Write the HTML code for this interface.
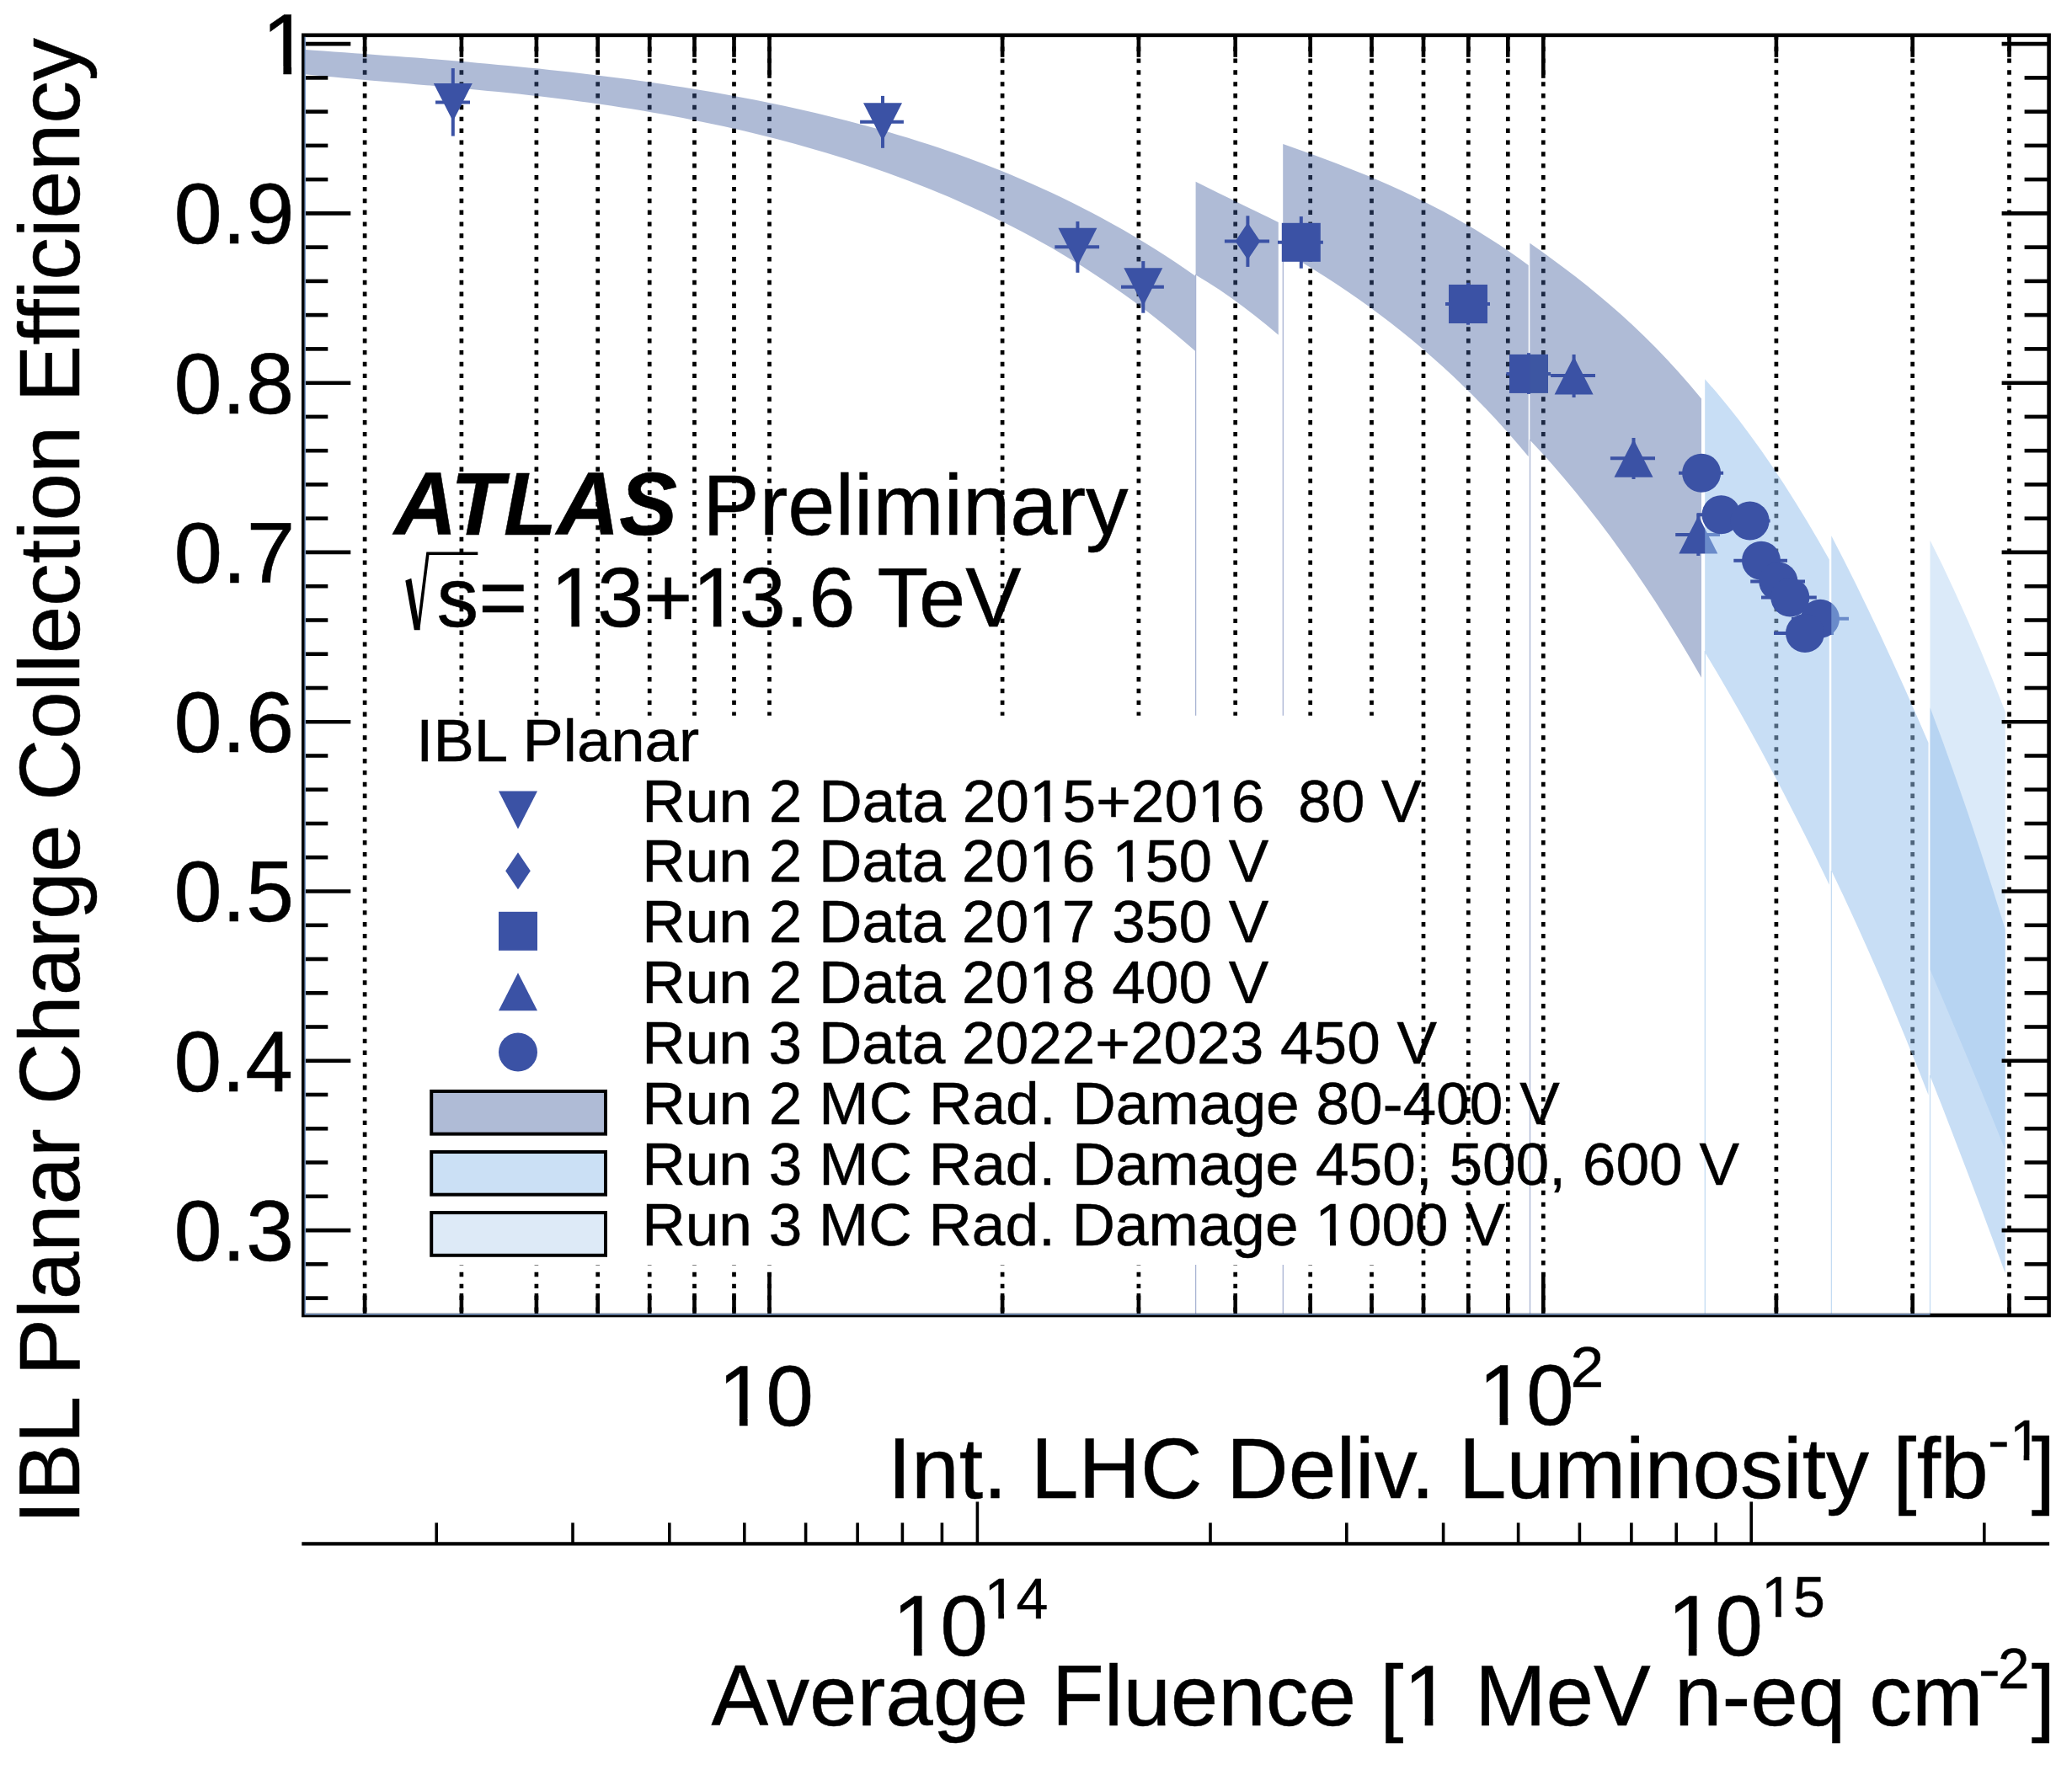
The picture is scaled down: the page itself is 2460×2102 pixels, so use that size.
<!DOCTYPE html>
<html lang="en"><head><meta charset="utf-8"><title>IBL Planar Charge Collection Efficiency</title>
<style>html,body{margin:0;padding:0;background:#fff}svg{display:block}text{font-family:'Liberation Sans',Arial,Helvetica,sans-serif;fill:#000;white-space:pre}</style></head><body>
<svg width="2460" height="2102" viewBox="0 0 2460 2102">
<rect x="0" y="0" width="2460" height="2102" fill="#fff"/>
<g stroke="#000" stroke-width="4.7" stroke-dasharray="5.4 8.46" fill="none">
<line x1="433.1" y1="41.7" x2="433.1" y2="1562.0"/>
<line x1="547.9" y1="41.7" x2="547.9" y2="1562.0"/>
<line x1="636.9" y1="41.7" x2="636.9" y2="1562.0"/>
<line x1="709.7" y1="41.7" x2="709.7" y2="1562.0"/>
<line x1="771.2" y1="41.7" x2="771.2" y2="1562.0"/>
<line x1="824.5" y1="41.7" x2="824.5" y2="1562.0"/>
<line x1="871.5" y1="41.7" x2="871.5" y2="1562.0"/>
<line x1="913.5" y1="41.7" x2="913.5" y2="1562.0"/>
<line x1="1190.1" y1="41.7" x2="1190.1" y2="1562.0"/>
<line x1="1351.9" y1="41.7" x2="1351.9" y2="1562.0"/>
<line x1="1466.7" y1="41.7" x2="1466.7" y2="1562.0"/>
<line x1="1555.7" y1="41.7" x2="1555.7" y2="1562.0"/>
<line x1="1628.5" y1="41.7" x2="1628.5" y2="1562.0"/>
<line x1="1690.0" y1="41.7" x2="1690.0" y2="1562.0"/>
<line x1="1743.3" y1="41.7" x2="1743.3" y2="1562.0"/>
<line x1="1790.3" y1="41.7" x2="1790.3" y2="1562.0"/>
<line x1="1832.3" y1="41.7" x2="1832.3" y2="1562.0"/>
<line x1="2108.9" y1="41.7" x2="2108.9" y2="1562.0"/>
<line x1="2270.7" y1="41.7" x2="2270.7" y2="1562.0"/>
<line x1="2385.5" y1="41.7" x2="2385.5" y2="1562.0"/>
</g>
<path d="M360.0 58.8 L372.2 59.7 L384.3 60.6 L396.5 61.5 L408.7 62.3 L420.9 63.2 L433.0 64.1 L445.2 65.0 L457.4 65.9 L469.6 66.8 L481.7 67.7 L493.9 68.6 L506.1 69.6 L518.3 70.6 L530.4 71.5 L542.6 72.6 L554.8 73.6 L567.0 74.7 L579.1 75.7 L591.3 76.9 L603.5 78.0 L615.7 79.2 L627.8 80.4 L640.0 81.6 L652.2 82.9 L664.4 84.2 L676.5 85.6 L688.7 87.0 L700.9 88.4 L713.1 89.9 L725.2 91.4 L737.4 93.0 L749.6 94.6 L761.8 96.3 L773.9 98.0 L786.1 99.8 L798.3 101.7 L810.5 103.6 L822.6 105.5 L834.8 107.5 L847.0 109.6 L859.2 111.7 L871.3 114.0 L883.5 116.2 L895.7 118.6 L907.9 121.0 L920.0 123.5 L932.2 126.1 L944.4 128.7 L956.6 131.5 L968.7 134.3 L980.9 137.2 L993.1 140.2 L1005.3 143.3 L1017.4 146.4 L1029.6 149.7 L1041.8 153.1 L1054.0 156.6 L1066.1 160.2 L1078.3 163.8 L1090.5 167.7 L1102.7 171.6 L1114.8 175.6 L1127.0 179.8 L1139.2 184.1 L1151.4 188.5 L1163.5 193.1 L1175.7 197.7 L1187.9 202.6 L1200.1 207.6 L1212.2 212.7 L1224.4 218.0 L1236.6 223.4 L1248.8 229.0 L1260.9 234.8 L1273.1 240.8 L1285.3 246.9 L1297.5 253.2 L1309.6 259.7 L1321.8 266.4 L1334.0 273.3 L1346.2 280.4 L1358.3 287.7 L1370.5 295.3 L1382.7 303.0 L1394.9 311.0 L1407.0 319.3 L1419.2 327.7 L1419.2 417.1 L1407.0 406.5 L1394.9 396.2 L1382.7 386.2 L1370.5 376.5 L1358.3 367.1 L1346.2 358.0 L1334.0 349.2 L1321.8 340.7 L1309.6 332.4 L1297.5 324.4 L1285.3 316.6 L1273.1 309.1 L1260.9 301.7 L1248.8 294.6 L1236.6 287.8 L1224.4 281.1 L1212.2 274.6 L1200.1 268.3 L1187.9 262.2 L1175.7 256.2 L1163.5 250.5 L1151.4 244.9 L1139.2 239.4 L1127.0 234.1 L1114.8 229.0 L1102.7 224.0 L1090.5 219.2 L1078.3 214.5 L1066.1 210.0 L1054.0 205.5 L1041.8 201.2 L1029.6 197.0 L1017.4 193.0 L1005.3 189.1 L993.1 185.2 L980.9 181.5 L968.7 177.9 L956.6 174.4 L944.4 171.0 L932.2 167.8 L920.0 164.6 L907.9 161.5 L895.7 158.5 L883.5 155.6 L871.3 152.8 L859.2 150.1 L847.0 147.4 L834.8 144.9 L822.6 142.4 L810.5 140.1 L798.3 137.8 L786.1 135.6 L773.9 133.4 L761.8 131.3 L749.6 129.3 L737.4 127.4 L725.2 125.6 L713.1 123.8 L700.9 122.1 L688.7 120.4 L676.5 118.8 L664.4 117.3 L652.2 115.8 L640.0 114.3 L627.8 113.0 L615.7 111.6 L603.5 110.3 L591.3 109.1 L579.1 107.9 L567.0 106.7 L554.8 105.5 L542.6 104.4 L530.4 103.3 L518.3 102.3 L506.1 101.2 L493.9 100.2 L481.7 99.1 L469.6 98.1 L457.4 97.0 L445.2 96.0 L433.0 94.9 L420.9 93.8 L408.7 92.7 L396.5 91.6 L384.3 90.4 L372.2 89.2 L360.0 87.9Z" fill="rgba(64,93,157,0.42)"/>
<line x1="537.8" y1="81.1" x2="537.8" y2="161.6" stroke="#3b52a5" stroke-width="4"/>
<line x1="517.0" y1="121.6" x2="558.0" y2="121.6" stroke="#3b52a5" stroke-width="4"/>
<path d="M514.8 99.1L560.8 99.1L537.8 144.1Z" fill="#3b52a5"/>
<line x1="1048.0" y1="113.9" x2="1048.0" y2="175.8" stroke="#3b52a5" stroke-width="4"/>
<line x1="1021.1" y1="144.8" x2="1072.9" y2="144.8" stroke="#3b52a5" stroke-width="4"/>
<path d="M1025.0 122.3L1071.0 122.3L1048.0 167.3Z" fill="#3b52a5"/>
<line x1="1279.4" y1="263.0" x2="1279.4" y2="323.8" stroke="#3b52a5" stroke-width="4"/>
<line x1="1252.3" y1="293.2" x2="1305.1" y2="293.2" stroke="#3b52a5" stroke-width="4"/>
<path d="M1256.4 270.7L1302.4 270.7L1279.4 315.7Z" fill="#3b52a5"/>
<line x1="1357.3" y1="310.1" x2="1357.3" y2="371.7" stroke="#3b52a5" stroke-width="4"/>
<line x1="1331.0" y1="340.8" x2="1381.9" y2="340.8" stroke="#3b52a5" stroke-width="4"/>
<path d="M1334.3 318.3L1380.3 318.3L1357.3 363.3Z" fill="#3b52a5"/>
<path d="M1419.6 215.8 L1433.6 222.8 L1447.7 229.7 L1461.7 236.6 L1475.7 243.5 L1489.7 250.3 L1503.8 257.1 L1517.8 263.9 L1517.8 397.8 L1503.8 386.0 L1489.7 374.7 L1475.7 364.0 L1461.7 353.8 L1447.7 344.1 L1433.6 335.0 L1419.6 326.4Z" fill="rgba(64,93,157,0.42)"/>
<line x1="1419.6" y1="326.0" x2="1419.6" y2="1562.0" stroke="#a9b4d3" stroke-width="1.3"/>
<line x1="1481.4" y1="256.3" x2="1481.4" y2="316.9" stroke="#3b52a5" stroke-width="4"/>
<line x1="1453.9" y1="286.4" x2="1507.1" y2="286.4" stroke="#3b52a5" stroke-width="4"/>
<path d="M1481.4 264.4L1496.2 286.4L1481.4 308.4L1466.6 286.4Z" fill="#3b52a5"/>
<path d="M1523.2 171.0 L1535.9 175.4 L1548.5 179.9 L1561.2 184.5 L1573.9 189.2 L1586.6 193.9 L1599.2 198.9 L1611.9 203.9 L1624.6 209.1 L1637.3 214.5 L1649.9 220.1 L1662.6 225.8 L1675.3 231.8 L1688.0 237.9 L1700.6 244.4 L1713.3 251.0 L1726.0 258.0 L1738.7 265.2 L1751.3 272.6 L1764.0 280.4 L1776.7 288.5 L1789.4 297.0 L1802.0 305.7 L1814.7 314.9 L1814.7 542.2 L1802.0 527.2 L1789.4 512.8 L1776.7 498.8 L1764.0 485.3 L1751.3 472.3 L1738.7 459.7 L1726.0 447.5 L1713.3 435.7 L1700.6 424.4 L1688.0 413.4 L1675.3 402.8 L1662.6 392.5 L1649.9 382.5 L1637.3 372.9 L1624.6 363.6 L1611.9 354.6 L1599.2 345.8 L1586.6 337.3 L1573.9 329.0 L1561.2 321.0 L1548.5 313.2 L1535.9 305.5 L1523.2 298.0Z" fill="rgba(64,93,157,0.42)"/>
<line x1="1523.3" y1="298.0" x2="1523.3" y2="1562.0" stroke="#a9b4d3" stroke-width="1.3"/>
<line x1="1544.8" y1="257.1" x2="1544.8" y2="318.7" stroke="#3b52a5" stroke-width="4"/>
<line x1="1517.0" y1="287.8" x2="1570.9" y2="287.8" stroke="#3b52a5" stroke-width="4"/>
<rect x="1521.8" y="264.8" width="46.0" height="46.0" fill="#3b52a5"/>
<line x1="1743.0" y1="335.8" x2="1743.0" y2="385.7" stroke="#3b52a5" stroke-width="4"/>
<line x1="1716.0" y1="361.0" x2="1769.0" y2="361.0" stroke="#3b52a5" stroke-width="4"/>
<rect x="1720.0" y="338.0" width="46.0" height="46.0" fill="#3b52a5"/>
<line x1="1815.0" y1="419.2" x2="1815.0" y2="467.9" stroke="#3b52a5" stroke-width="4"/>
<line x1="1788.4" y1="443.9" x2="1841.1" y2="443.9" stroke="#3b52a5" stroke-width="4"/>
<rect x="1792.0" y="420.9" width="46.0" height="46.0" fill="#3b52a5"/>
<path d="M1816.3 288.8 L1829.9 298.3 L1843.5 308.2 L1857.0 318.2 L1870.6 328.6 L1884.2 339.3 L1897.8 350.4 L1911.4 361.9 L1924.9 373.8 L1938.5 386.3 L1952.1 399.2 L1965.7 412.8 L1979.3 426.9 L1992.8 441.7 L2006.4 457.2 L2020.0 473.4 L2020.0 804.7 L2006.4 781.2 L1992.8 758.4 L1979.3 736.4 L1965.7 715.1 L1952.1 694.5 L1938.5 674.5 L1924.9 655.3 L1911.4 636.6 L1897.8 618.6 L1884.2 601.2 L1870.6 584.3 L1857.0 568.1 L1843.5 552.3 L1829.9 537.1 L1816.3 522.4Z" fill="rgba(64,93,157,0.42)"/>
<line x1="1816.5" y1="522.0" x2="1816.5" y2="1562.0" stroke="#a9b4d3" stroke-width="1.3"/>
<line x1="1868.6" y1="421.0" x2="1868.6" y2="472.0" stroke="#3b52a5" stroke-width="4"/>
<line x1="1841.1" y1="446.1" x2="1894.0" y2="446.1" stroke="#3b52a5" stroke-width="4"/>
<path d="M1845.6 468.6L1891.6 468.6L1868.6 423.6Z" fill="#3b52a5"/>
<line x1="1939.5" y1="520.0" x2="1939.5" y2="569.0" stroke="#3b52a5" stroke-width="4"/>
<line x1="1911.9" y1="544.3" x2="1965.0" y2="544.3" stroke="#3b52a5" stroke-width="4"/>
<path d="M1916.5 566.8L1962.5 566.8L1939.5 521.8Z" fill="#3b52a5"/>
<line x1="2016.3" y1="609.6" x2="2016.3" y2="660.0" stroke="#3b52a5" stroke-width="4"/>
<line x1="1989.2" y1="634.9" x2="2042.0" y2="634.9" stroke="#3b52a5" stroke-width="4"/>
<path d="M1993.3 657.4L2039.3 657.4L2016.3 612.4Z" fill="#3b52a5"/>
<path d="M2024.2 450.2 L2037.6 465.5 L2051.0 481.8 L2064.5 498.8 L2077.9 516.7 L2091.3 535.3 L2104.7 554.8 L2118.1 575.1 L2131.5 596.3 L2145.0 618.2 L2158.4 641.0 L2171.8 664.6 L2171.8 1050.7 L2158.4 1022.9 L2145.0 995.7 L2131.5 969.0 L2118.1 942.8 L2104.7 917.2 L2091.3 892.1 L2077.9 867.6 L2064.5 843.5 L2051.0 820.1 L2037.6 797.1 L2024.2 774.7Z" fill="rgba(150,192,236,0.52)"/>
<line x1="2024.3" y1="773.0" x2="2024.3" y2="1562.0" stroke="#c4dcf3" stroke-width="1.3"/>
<line x1="1993.0" y1="561.7" x2="2046.1" y2="561.7" stroke="#3b52a5" stroke-width="4"/>
<line x1="2014.8" y1="611.2" x2="2071.0" y2="611.2" stroke="#3b52a5" stroke-width="4"/>
<line x1="2053.7" y1="618.4" x2="2101.6" y2="618.4" stroke="#3b52a5" stroke-width="4"/>
<line x1="2058.3" y1="665.8" x2="2122.0" y2="665.8" stroke="#3b52a5" stroke-width="4"/>
<line x1="2078.2" y1="690.4" x2="2143.0" y2="690.4" stroke="#3b52a5" stroke-width="4"/>
<line x1="2091.0" y1="709.5" x2="2156.8" y2="709.5" stroke="#3b52a5" stroke-width="4"/>
<line x1="2127.0" y1="734.7" x2="2195.0" y2="734.7" stroke="#3b52a5" stroke-width="4"/>
<line x1="2106.0" y1="752.0" x2="2177.0" y2="752.0" stroke="#3b52a5" stroke-width="4"/>
<circle cx="2020.1" cy="561.7" r="23" fill="#3b52a5"/>
<circle cx="2043.5" cy="611.2" r="23" fill="#3b52a5"/>
<circle cx="2077.6" cy="618.4" r="23" fill="#3b52a5"/>
<circle cx="2091.0" cy="665.8" r="23" fill="#3b52a5"/>
<circle cx="2111.3" cy="690.4" r="23" fill="#3b52a5"/>
<circle cx="2125.3" cy="709.5" r="23" fill="#3b52a5"/>
<circle cx="2161.0" cy="734.7" r="23" fill="#3b52a5"/>
<circle cx="2143.0" cy="752.0" r="23" fill="#3b52a5"/>
<path d="M2174.3 636.2 L2188.7 664.3 L2203.1 693.1 L2217.5 722.7 L2231.9 753.1 L2246.3 784.2 L2260.7 816.1 L2275.1 848.7 L2289.5 882.1 L2289.5 1300.3 L2275.1 1263.9 L2260.7 1228.4 L2246.3 1193.8 L2231.9 1160.1 L2217.5 1127.2 L2203.1 1095.2 L2188.7 1064.1 L2174.3 1033.8Z" fill="rgba(150,192,236,0.52)"/>
<line x1="2174.4" y1="1034.0" x2="2174.4" y2="1562.0" stroke="#c4dcf3" stroke-width="1.3"/>
<path d="M2291.5 641.7 L2306.4 671.8 L2321.2 703.4 L2336.1 736.5 L2351.0 771.1 L2365.8 807.3 L2380.7 844.9 L2380.7 1365.4 L2365.8 1328.8 L2351.0 1292.6 L2336.1 1256.7 L2321.2 1221.3 L2306.4 1186.3 L2291.5 1151.6Z" fill="rgba(150,192,236,0.34)"/>
<path d="M2291.5 840.3 L2306.4 880.2 L2321.2 921.7 L2336.1 964.8 L2351.0 1009.5 L2365.8 1055.7 L2380.7 1103.5 L2380.7 1511.9 L2365.8 1471.7 L2351.0 1432.0 L2336.1 1392.8 L2321.2 1354.0 L2306.4 1315.6 L2291.5 1277.7Z" fill="rgba(150,192,236,0.52)"/>
<line x1="2291.5" y1="1277.0" x2="2291.5" y2="1562.0" stroke="#c4dcf3" stroke-width="1.3"/>
<rect x="467" y="849.8" width="1184" height="652.2" fill="#fff"/>
<g stroke="#000" stroke-width="4.6" fill="none">
<line x1="360.3" y1="1541.6" x2="389.3" y2="1541.6"/>
<line x1="2432.6" y1="1541.6" x2="2403.6" y2="1541.6"/>
<line x1="360.3" y1="1501.3" x2="389.3" y2="1501.3"/>
<line x1="2432.6" y1="1501.3" x2="2403.6" y2="1501.3"/>
<line x1="360.3" y1="1461.1" x2="416.3" y2="1461.1"/>
<line x1="2432.6" y1="1461.1" x2="2376.6" y2="1461.1"/>
<line x1="360.3" y1="1420.8" x2="389.3" y2="1420.8"/>
<line x1="2432.6" y1="1420.8" x2="2403.6" y2="1420.8"/>
<line x1="360.3" y1="1380.5" x2="389.3" y2="1380.5"/>
<line x1="2432.6" y1="1380.5" x2="2403.6" y2="1380.5"/>
<line x1="360.3" y1="1340.3" x2="389.3" y2="1340.3"/>
<line x1="2432.6" y1="1340.3" x2="2403.6" y2="1340.3"/>
<line x1="360.3" y1="1300.0" x2="389.3" y2="1300.0"/>
<line x1="2432.6" y1="1300.0" x2="2403.6" y2="1300.0"/>
<line x1="360.3" y1="1259.8" x2="416.3" y2="1259.8"/>
<line x1="2432.6" y1="1259.8" x2="2376.6" y2="1259.8"/>
<line x1="360.3" y1="1219.5" x2="389.3" y2="1219.5"/>
<line x1="2432.6" y1="1219.5" x2="2403.6" y2="1219.5"/>
<line x1="360.3" y1="1179.3" x2="389.3" y2="1179.3"/>
<line x1="2432.6" y1="1179.3" x2="2403.6" y2="1179.3"/>
<line x1="360.3" y1="1139.0" x2="389.3" y2="1139.0"/>
<line x1="2432.6" y1="1139.0" x2="2403.6" y2="1139.0"/>
<line x1="360.3" y1="1098.8" x2="389.3" y2="1098.8"/>
<line x1="2432.6" y1="1098.8" x2="2403.6" y2="1098.8"/>
<line x1="360.3" y1="1058.5" x2="416.3" y2="1058.5"/>
<line x1="2432.6" y1="1058.5" x2="2376.6" y2="1058.5"/>
<line x1="360.3" y1="1018.2" x2="389.3" y2="1018.2"/>
<line x1="2432.6" y1="1018.2" x2="2403.6" y2="1018.2"/>
<line x1="360.3" y1="978.0" x2="389.3" y2="978.0"/>
<line x1="2432.6" y1="978.0" x2="2403.6" y2="978.0"/>
<line x1="360.3" y1="937.7" x2="389.3" y2="937.7"/>
<line x1="2432.6" y1="937.7" x2="2403.6" y2="937.7"/>
<line x1="360.3" y1="897.5" x2="389.3" y2="897.5"/>
<line x1="2432.6" y1="897.5" x2="2403.6" y2="897.5"/>
<line x1="360.3" y1="857.2" x2="416.3" y2="857.2"/>
<line x1="2432.6" y1="857.2" x2="2376.6" y2="857.2"/>
<line x1="360.3" y1="817.0" x2="389.3" y2="817.0"/>
<line x1="2432.6" y1="817.0" x2="2403.6" y2="817.0"/>
<line x1="360.3" y1="776.7" x2="389.3" y2="776.7"/>
<line x1="2432.6" y1="776.7" x2="2403.6" y2="776.7"/>
<line x1="360.3" y1="736.5" x2="389.3" y2="736.5"/>
<line x1="2432.6" y1="736.5" x2="2403.6" y2="736.5"/>
<line x1="360.3" y1="696.2" x2="389.3" y2="696.2"/>
<line x1="2432.6" y1="696.2" x2="2403.6" y2="696.2"/>
<line x1="360.3" y1="655.9" x2="416.3" y2="655.9"/>
<line x1="2432.6" y1="655.9" x2="2376.6" y2="655.9"/>
<line x1="360.3" y1="615.7" x2="389.3" y2="615.7"/>
<line x1="2432.6" y1="615.7" x2="2403.6" y2="615.7"/>
<line x1="360.3" y1="575.4" x2="389.3" y2="575.4"/>
<line x1="2432.6" y1="575.4" x2="2403.6" y2="575.4"/>
<line x1="360.3" y1="535.2" x2="389.3" y2="535.2"/>
<line x1="2432.6" y1="535.2" x2="2403.6" y2="535.2"/>
<line x1="360.3" y1="494.9" x2="389.3" y2="494.9"/>
<line x1="2432.6" y1="494.9" x2="2403.6" y2="494.9"/>
<line x1="360.3" y1="454.7" x2="416.3" y2="454.7"/>
<line x1="2432.6" y1="454.7" x2="2376.6" y2="454.7"/>
<line x1="360.3" y1="414.4" x2="389.3" y2="414.4"/>
<line x1="2432.6" y1="414.4" x2="2403.6" y2="414.4"/>
<line x1="360.3" y1="374.1" x2="389.3" y2="374.1"/>
<line x1="2432.6" y1="374.1" x2="2403.6" y2="374.1"/>
<line x1="360.3" y1="333.9" x2="389.3" y2="333.9"/>
<line x1="2432.6" y1="333.9" x2="2403.6" y2="333.9"/>
<line x1="360.3" y1="293.6" x2="389.3" y2="293.6"/>
<line x1="2432.6" y1="293.6" x2="2403.6" y2="293.6"/>
<line x1="360.3" y1="253.4" x2="416.3" y2="253.4"/>
<line x1="2432.6" y1="253.4" x2="2376.6" y2="253.4"/>
<line x1="360.3" y1="213.1" x2="389.3" y2="213.1"/>
<line x1="2432.6" y1="213.1" x2="2403.6" y2="213.1"/>
<line x1="360.3" y1="172.9" x2="389.3" y2="172.9"/>
<line x1="2432.6" y1="172.9" x2="2403.6" y2="172.9"/>
<line x1="360.3" y1="132.6" x2="389.3" y2="132.6"/>
<line x1="2432.6" y1="132.6" x2="2403.6" y2="132.6"/>
<line x1="360.3" y1="92.4" x2="389.3" y2="92.4"/>
<line x1="2432.6" y1="92.4" x2="2403.6" y2="92.4"/>
<line x1="360.3" y1="52.1" x2="416.3" y2="52.1"/>
<line x1="2432.6" y1="52.1" x2="2376.6" y2="52.1"/>
<line x1="433.1" y1="1562.0" x2="433.1" y2="1536.0"/>
<line x1="433.1" y1="41.8" x2="433.1" y2="67.8"/>
<line x1="547.9" y1="1562.0" x2="547.9" y2="1536.0"/>
<line x1="547.9" y1="41.8" x2="547.9" y2="67.8"/>
<line x1="636.9" y1="1562.0" x2="636.9" y2="1536.0"/>
<line x1="636.9" y1="41.8" x2="636.9" y2="67.8"/>
<line x1="709.7" y1="1562.0" x2="709.7" y2="1536.0"/>
<line x1="709.7" y1="41.8" x2="709.7" y2="67.8"/>
<line x1="771.2" y1="1562.0" x2="771.2" y2="1536.0"/>
<line x1="771.2" y1="41.8" x2="771.2" y2="67.8"/>
<line x1="824.5" y1="1562.0" x2="824.5" y2="1536.0"/>
<line x1="824.5" y1="41.8" x2="824.5" y2="67.8"/>
<line x1="871.5" y1="1562.0" x2="871.5" y2="1536.0"/>
<line x1="871.5" y1="41.8" x2="871.5" y2="67.8"/>
<line x1="913.5" y1="1562.0" x2="913.5" y2="1511.0"/>
<line x1="913.5" y1="41.8" x2="913.5" y2="92.8"/>
<line x1="1190.1" y1="1562.0" x2="1190.1" y2="1536.0"/>
<line x1="1190.1" y1="41.8" x2="1190.1" y2="67.8"/>
<line x1="1351.9" y1="1562.0" x2="1351.9" y2="1536.0"/>
<line x1="1351.9" y1="41.8" x2="1351.9" y2="67.8"/>
<line x1="1466.7" y1="1562.0" x2="1466.7" y2="1536.0"/>
<line x1="1466.7" y1="41.8" x2="1466.7" y2="67.8"/>
<line x1="1555.7" y1="1562.0" x2="1555.7" y2="1536.0"/>
<line x1="1555.7" y1="41.8" x2="1555.7" y2="67.8"/>
<line x1="1628.5" y1="1562.0" x2="1628.5" y2="1536.0"/>
<line x1="1628.5" y1="41.8" x2="1628.5" y2="67.8"/>
<line x1="1690.0" y1="1562.0" x2="1690.0" y2="1536.0"/>
<line x1="1690.0" y1="41.8" x2="1690.0" y2="67.8"/>
<line x1="1743.3" y1="1562.0" x2="1743.3" y2="1536.0"/>
<line x1="1743.3" y1="41.8" x2="1743.3" y2="67.8"/>
<line x1="1790.3" y1="1562.0" x2="1790.3" y2="1536.0"/>
<line x1="1790.3" y1="41.8" x2="1790.3" y2="67.8"/>
<line x1="1832.3" y1="1562.0" x2="1832.3" y2="1511.0"/>
<line x1="1832.3" y1="41.8" x2="1832.3" y2="92.8"/>
<line x1="2108.9" y1="1562.0" x2="2108.9" y2="1536.0"/>
<line x1="2108.9" y1="41.8" x2="2108.9" y2="67.8"/>
<line x1="2270.7" y1="1562.0" x2="2270.7" y2="1536.0"/>
<line x1="2270.7" y1="41.8" x2="2270.7" y2="67.8"/>
<line x1="2385.5" y1="1562.0" x2="2385.5" y2="1536.0"/>
<line x1="2385.5" y1="41.8" x2="2385.5" y2="67.8"/>
<rect x="360.3" y="41.8" width="2072.3" height="1520.2"/>
</g>
<path d="M362.2 43.8 L362.2 1560.7 L2291.5 1560.7" stroke="#84a4d4" stroke-width="1.4" fill="none"/>
<g stroke="#000" fill="none">
<line x1="358.3" y1="1833.4" x2="2433.1" y2="1833.4" stroke-width="4.4"/>
<line x1="518.2" y1="1833.4" x2="518.2" y2="1808.4" stroke-width="3.6"/>
<line x1="680.0" y1="1833.4" x2="680.0" y2="1808.4" stroke-width="3.6"/>
<line x1="794.8" y1="1833.4" x2="794.8" y2="1808.4" stroke-width="3.6"/>
<line x1="883.8" y1="1833.4" x2="883.8" y2="1808.4" stroke-width="3.6"/>
<line x1="956.6" y1="1833.4" x2="956.6" y2="1808.4" stroke-width="3.6"/>
<line x1="1018.1" y1="1833.4" x2="1018.1" y2="1808.4" stroke-width="3.6"/>
<line x1="1071.4" y1="1833.4" x2="1071.4" y2="1808.4" stroke-width="3.6"/>
<line x1="1118.4" y1="1833.4" x2="1118.4" y2="1808.4" stroke-width="3.6"/>
<line x1="1160.4" y1="1833.4" x2="1160.4" y2="1783.4" stroke-width="3.6"/>
<line x1="1437.0" y1="1833.4" x2="1437.0" y2="1808.4" stroke-width="3.6"/>
<line x1="1598.8" y1="1833.4" x2="1598.8" y2="1808.4" stroke-width="3.6"/>
<line x1="1713.6" y1="1833.4" x2="1713.6" y2="1808.4" stroke-width="3.6"/>
<line x1="1802.6" y1="1833.4" x2="1802.6" y2="1808.4" stroke-width="3.6"/>
<line x1="1875.4" y1="1833.4" x2="1875.4" y2="1808.4" stroke-width="3.6"/>
<line x1="1936.9" y1="1833.4" x2="1936.9" y2="1808.4" stroke-width="3.6"/>
<line x1="1990.2" y1="1833.4" x2="1990.2" y2="1808.4" stroke-width="3.6"/>
<line x1="2037.2" y1="1833.4" x2="2037.2" y2="1808.4" stroke-width="3.6"/>
<line x1="2079.2" y1="1833.4" x2="2079.2" y2="1783.4" stroke-width="3.6"/>
<line x1="2355.8" y1="1833.4" x2="2355.8" y2="1808.4" stroke-width="3.6"/>
</g>
<text transform="translate(206.4 289.2) scale(1.0104 1.0)" font-size="102" stroke="#000" stroke-width="0.5" xml:space="preserve">0.9</text>
<text transform="translate(206.4 490.5) scale(1.0066 1.0)" font-size="102" stroke="#000" stroke-width="0.5" xml:space="preserve">0.8</text>
<text transform="translate(206.4 691.7) scale(1.0143 1.0)" font-size="102" stroke="#000" stroke-width="0.5" xml:space="preserve">0.7</text>
<text transform="translate(206.4 893.0) scale(1.0066 1.0)" font-size="102" stroke="#000" stroke-width="0.5" xml:space="preserve">0.6</text>
<text transform="translate(206.4 1094.3) scale(1.0066 1.0)" font-size="102" stroke="#000" stroke-width="0.5" xml:space="preserve">0.5</text>
<text transform="translate(206.4 1295.6) scale(0.9990 1.0)" font-size="102" stroke="#000" stroke-width="0.5" xml:space="preserve">0.4</text>
<text transform="translate(206.4 1496.9) scale(1.0066 1.0)" font-size="102" stroke="#000" stroke-width="0.5" xml:space="preserve">0.3</text>
<clipPath id="c1"><path clip-rule="evenodd" d="M-50 -153.0H106.7V102.0H-50ZM5.77 -8.62H25.30V3H5.77ZM35.01 -8.62H53.75V3H35.01Z"/></clipPath>
<text transform="translate(311.1 87.9) scale(1.0000 1.0)" font-size="102" stroke="#000" stroke-width="0.5" xml:space="preserve" clip-path="url(#c1)">1</text>
<clipPath id="c2"><path clip-rule="evenodd" d="M-50 -153.0H163.5V102.0H-50ZM5.77 -8.62H25.30V3H5.77ZM35.01 -8.62H53.75V3H35.01Z"/></clipPath>
<text transform="translate(852.6 1692.8) scale(1.0000 1.0)" font-size="102" stroke="#000" stroke-width="0.5" xml:space="preserve" clip-path="url(#c2)">10</text>
<clipPath id="c3"><path clip-rule="evenodd" d="M-50 -153.0H163.5V102.0H-50ZM5.77 -8.62H25.30V3H5.77ZM35.01 -8.62H53.75V3H35.01Z"/></clipPath>
<text transform="translate(1755.3 1692.0) scale(1.0000 1.0)" font-size="102" stroke="#000" stroke-width="0.5" xml:space="preserve" clip-path="url(#c3)">10</text>
<text transform="translate(1864.4 1646.5) scale(1.0504 1.0)" font-size="68" stroke="#000" stroke-width="0.5" xml:space="preserve">2</text>
<clipPath id="c4"><path clip-rule="evenodd" d="M-50 -153.0H163.5V102.0H-50ZM5.77 -8.62H25.30V3H5.77ZM35.01 -8.62H53.75V3H35.01Z"/></clipPath>
<text transform="translate(1059.6 1966.2) scale(1.0000 1.0)" font-size="102" stroke="#000" stroke-width="0.5" xml:space="preserve" clip-path="url(#c4)">10</text>
<clipPath id="c5"><path clip-rule="evenodd" d="M-50 -102.0H125.6V68.0H-50ZM3.18 -6.08H16.75V3H3.18ZM23.46 -6.08H36.50V3H23.46Z"/></clipPath>
<text transform="translate(1168.6 1921.5) scale(1.0000 1.0)" font-size="68" stroke="#000" stroke-width="0.5" xml:space="preserve" clip-path="url(#c5)">14</text>
<clipPath id="c6"><path clip-rule="evenodd" d="M-50 -153.0H163.5V102.0H-50ZM5.77 -8.62H25.30V3H5.77ZM35.01 -8.62H53.75V3H35.01Z"/></clipPath>
<text transform="translate(1979.5 1966.2) scale(1.0000 1.0)" font-size="102" stroke="#000" stroke-width="0.5" xml:space="preserve" clip-path="url(#c6)">10</text>
<clipPath id="c7"><path clip-rule="evenodd" d="M-50 -102.0H125.6V68.0H-50ZM3.18 -6.08H16.75V3H3.18ZM23.46 -6.08H36.50V3H23.46Z"/></clipPath>
<text transform="translate(2091.3 1920.0) scale(1.0000 1.0)" font-size="68" stroke="#000" stroke-width="0.5" xml:space="preserve" clip-path="url(#c7)">15</text>
<text transform="translate(1053.8 1778.7) scale(0.9996 1.0)" font-size="102" stroke="#000" stroke-width="0.5" xml:space="preserve">Int. LHC Deliv. Luminosity [fb</text>
<text transform="translate(2359.7 1734.0) scale(1.1525 1.0)" font-size="68" stroke="#000" stroke-width="0.5" xml:space="preserve">-</text>
<clipPath id="c8"><path clip-rule="evenodd" d="M-50 -102.0H87.8V68.0H-50ZM3.18 -6.08H16.75V3H3.18ZM23.46 -6.08H36.50V3H23.46Z"/></clipPath>
<text transform="translate(2385.9 1734.0) scale(1.0000 1.0)" font-size="68" stroke="#000" stroke-width="0.5" xml:space="preserve" clip-path="url(#c8)">1</text>
<text transform="translate(2411.7 1778.7) scale(1.0000 1.0)" font-size="102" stroke="#000" stroke-width="0.5" xml:space="preserve">]</text>
<clipPath id="c9"><path clip-rule="evenodd" d="M-50 -153.0H1567.6V102.0H-50ZM831.75 -8.62H851.28V3H831.75ZM861.00 -8.62H879.73V3H861.00Z"/></clipPath>
<text transform="translate(844.4 2049.0) scale(0.9953 1.0)" font-size="102" stroke="#000" stroke-width="0.5" xml:space="preserve" clip-path="url(#c9)">Average Fluence [1 MeV n-eq cm</text>
<text transform="translate(2348.8 2005.5) scale(1.1525 1.0)" font-size="68" stroke="#000" stroke-width="0.5" xml:space="preserve">-</text>
<text transform="translate(2371.9 2005.0) scale(0.9922 1.0)" font-size="68" stroke="#000" stroke-width="0.5" xml:space="preserve">2</text>
<text transform="translate(2411.7 2049.0) scale(1.0000 1.0)" font-size="102" stroke="#000" stroke-width="0.5" xml:space="preserve">]</text>
<text transform="translate(93.8 1810.1) rotate(-90) scale(0.9946 1)" font-size="102" stroke="#000" stroke-width="0.5">IBL Planar Charge Collection Efficiency</text>
<text transform="translate(468.1 634.7) scale(1.0110 1.035)" font-size="102" stroke="#000" stroke-width="0.5" font-weight="bold" font-style="italic" xml:space="preserve">ATLAS</text>
<text transform="translate(834.3 634.7) scale(0.9906 1.0)" font-size="102" stroke="#000" stroke-width="0.5" xml:space="preserve">Preliminary</text>
<path d="M481.3 689.6 L488.3 686.8 L498.7 748.2 L491.8 748.2 Z" fill="#000"/>
<path d="M496.6 747.5 L507.9 657.3 L567.3 657.3" fill="none" stroke="#000" stroke-width="3.6" stroke-linejoin="miter"/>
<clipPath id="c10"><path clip-rule="evenodd" d="M-50 -150.0H748.7V100.0H-50ZM141.80 -8.47H160.98V3H141.80ZM170.51 -8.47H188.91V3H170.51ZM311.43 -8.47H330.61V3H311.43ZM340.15 -8.47H358.54V3H340.15Z"/></clipPath>
<text transform="translate(518.5 744.3) scale(0.9935 1.0)" font-size="100" stroke="#000" stroke-width="0.5" xml:space="preserve" clip-path="url(#c10)">s= 13+13.6 TeV</text>
<text transform="translate(494.3 904.3) scale(1.0209 1.0)" font-size="71" stroke="#000" stroke-width="0.5" xml:space="preserve">IBL Planar</text>
<clipPath id="c11"><path clip-rule="evenodd" d="M-50 -106.5H971.8V71.0H-50ZM461.27 -6.30H475.37V3H461.27ZM482.35 -6.30H495.89V3H482.35ZM660.69 -6.30H674.79V3H660.69ZM681.76 -6.30H695.30V3H681.76Z"/></clipPath>
<text transform="translate(762.3 975.5) scale(1.0042 1.0)" font-size="71" stroke="#000" stroke-width="0.5" xml:space="preserve" clip-path="url(#c11)">Run 2 Data 2015+2016  80 V</text>
<clipPath id="c12"><path clip-rule="evenodd" d="M-50 -106.5H792.1V71.0H-50ZM461.27 -6.30H475.37V3H461.27ZM482.35 -6.30H495.89V3H482.35ZM559.98 -6.30H574.07V3H559.98ZM581.05 -6.30H594.59V3H581.05Z"/></clipPath>
<text transform="translate(762.3 1047.4) scale(1.0027 1.0)" font-size="71" stroke="#000" stroke-width="0.5" xml:space="preserve" clip-path="url(#c12)">Run 2 Data 2016 150 V</text>
<clipPath id="c13"><path clip-rule="evenodd" d="M-50 -106.5H792.1V71.0H-50ZM461.27 -6.30H475.37V3H461.27ZM482.35 -6.30H495.89V3H482.35Z"/></clipPath>
<text transform="translate(762.3 1119.3) scale(1.0027 1.0)" font-size="71" stroke="#000" stroke-width="0.5" xml:space="preserve" clip-path="url(#c13)">Run 2 Data 2017 350 V</text>
<clipPath id="c14"><path clip-rule="evenodd" d="M-50 -106.5H792.1V71.0H-50ZM461.27 -6.30H475.37V3H461.27ZM482.35 -6.30H495.89V3H482.35Z"/></clipPath>
<text transform="translate(762.3 1191.2) scale(1.0027 1.0)" font-size="71" stroke="#000" stroke-width="0.5" xml:space="preserve" clip-path="url(#c14)">Run 2 Data 2018 400 V</text>
<text transform="translate(762.3 1263.1) scale(1.0024 1.0)" font-size="71" stroke="#000" stroke-width="0.5" xml:space="preserve">Run 3 Data 2022+2023 450 V</text>
<text transform="translate(762.3 1335.0) scale(1.0041 1.0)" font-size="71" stroke="#000" stroke-width="0.5" xml:space="preserve">Run 2 MC Rad. Damage 80-400 V</text>
<text transform="translate(762.3 1406.9) scale(1.0033 1.0)" font-size="71" stroke="#000" stroke-width="0.5" xml:space="preserve">Run 3 MC Rad. Damage 450, 500, 600 V</text>
<clipPath id="c15"><path clip-rule="evenodd" d="M-50 -106.5H1072.2V71.0H-50ZM800.54 -6.30H814.64V3H800.54ZM821.61 -6.30H835.16V3H821.61Z"/></clipPath>
<text transform="translate(762.3 1478.8) scale(1.0025 1.0)" font-size="71" stroke="#000" stroke-width="0.5" xml:space="preserve" clip-path="url(#c15)">Run 3 MC Rad. Damage 1000 V</text>
<path d="M592.0 939.6L638.0 939.6L615.0 984.6Z" fill="#3b52a5"/>
<path d="M615.0 1012.3L629.8 1034.3L615.0 1056.3L600.2 1034.3Z" fill="#3b52a5"/>
<rect x="592.0" y="1082.8" width="46.0" height="46.0" fill="#3b52a5"/>
<path d="M592.0 1200.2L638.0 1200.2L615.0 1155.2Z" fill="#3b52a5"/>
<circle cx="615.0" cy="1249.5" r="23" fill="#3b52a5"/>
<rect x="512.2" y="1295.95" width="206.8" height="50.7" fill="#afbbd6" stroke="#000" stroke-width="4"/>
<rect x="512.2" y="1368.00" width="206.8" height="50.7" fill="#cbe0f5" stroke="#000" stroke-width="4"/>
<rect x="512.2" y="1440.10" width="206.8" height="50.7" fill="#ddeaf7" stroke="#000" stroke-width="4"/>
</svg></body></html>
